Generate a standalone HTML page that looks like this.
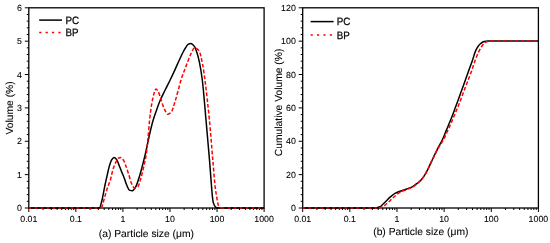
<!DOCTYPE html><html><head><meta charset="utf-8"><title>Particle size distribution</title><style>html,body{margin:0;padding:0;background:#fff;}body{width:550px;height:243px;overflow:hidden;}svg{display:block;}</style></head><body>
<svg width="550" height="243" viewBox="0 0 550 243" font-family='"Liberation Sans", Arial, Helvetica, sans-serif' fill="#000" text-rendering="geometricPrecision">
<style>text{stroke:#000;stroke-width:0.08px;paint-order:stroke;}</style>
<rect width="550" height="243" fill="#fff"/>
<rect x="28.8" y="7.8" width="235.3" height="200.2" fill="none" stroke="#000" stroke-width="1.3"/>
<path d="M24.8,208H28.8 M26.8,201.33H28.8 M26.8,194.65H28.8 M26.8,187.98H28.8 M26.8,181.31H28.8 M24.8,174.63H28.8 M26.8,167.96H28.8 M26.8,161.29H28.8 M26.8,154.61H28.8 M26.8,147.94H28.8 M24.8,141.27H28.8 M26.8,134.59H28.8 M26.8,127.92H28.8 M26.8,121.25H28.8 M26.8,114.57H28.8 M24.8,107.9H28.8 M26.8,101.23H28.8 M26.8,94.55H28.8 M26.8,87.88H28.8 M26.8,81.21H28.8 M24.8,74.53H28.8 M26.8,67.86H28.8 M26.8,61.19H28.8 M26.8,54.51H28.8 M26.8,47.84H28.8 M24.8,41.17H28.8 M26.8,34.49H28.8 M26.8,27.82H28.8 M26.8,21.15H28.8 M26.8,14.47H28.8 M24.8,7.8H28.8 M28.8,208V212 M42.97,208V210 M51.25,208V210 M57.13,208V210 M61.69,208V210 M65.42,208V210 M68.57,208V210 M71.3,208V210 M73.71,208V210 M75.86,208V212 M90.03,208V210 M98.31,208V210 M104.19,208V210 M108.75,208V210 M112.48,208V210 M115.63,208V210 M118.36,208V210 M120.77,208V210 M122.92,208V212 M137.09,208V210 M145.37,208V210 M151.25,208V210 M155.81,208V210 M159.54,208V210 M162.69,208V210 M165.42,208V210 M167.83,208V210 M169.98,208V212 M184.15,208V210 M192.43,208V210 M198.31,208V210 M202.87,208V210 M206.6,208V210 M209.75,208V210 M212.48,208V210 M214.89,208V210 M217.04,208V212 M231.21,208V210 M239.49,208V210 M245.37,208V210 M249.93,208V210 M253.66,208V210 M256.81,208V210 M259.54,208V210 M261.95,208V210 M264.1,208V212" stroke="#000" stroke-width="1" fill="none"/>
<rect x="302.7" y="7.8" width="235.7" height="200.2" fill="none" stroke="#000" stroke-width="1.3"/>
<path d="M298.7,208H302.7 M300.7,201.33H302.7 M300.7,194.65H302.7 M300.7,187.98H302.7 M300.7,181.31H302.7 M298.7,174.63H302.7 M300.7,167.96H302.7 M300.7,161.29H302.7 M300.7,154.61H302.7 M300.7,147.94H302.7 M298.7,141.27H302.7 M300.7,134.59H302.7 M300.7,127.92H302.7 M300.7,121.25H302.7 M300.7,114.57H302.7 M298.7,107.9H302.7 M300.7,101.23H302.7 M300.7,94.55H302.7 M300.7,87.88H302.7 M300.7,81.21H302.7 M298.7,74.53H302.7 M300.7,67.86H302.7 M300.7,61.19H302.7 M300.7,54.51H302.7 M300.7,47.84H302.7 M298.7,41.17H302.7 M300.7,34.49H302.7 M300.7,27.82H302.7 M300.7,21.15H302.7 M300.7,14.47H302.7 M298.7,7.8H302.7 M302.7,208V212 M316.89,208V210 M325.19,208V210 M331.08,208V210 M335.65,208V210 M339.38,208V210 M342.54,208V210 M345.27,208V210 M347.68,208V210 M349.84,208V212 M364.03,208V210 M372.33,208V210 M378.22,208V210 M382.79,208V210 M386.52,208V210 M389.68,208V210 M392.41,208V210 M394.82,208V210 M396.98,208V212 M411.17,208V210 M419.47,208V210 M425.36,208V210 M429.93,208V210 M433.66,208V210 M436.82,208V210 M439.55,208V210 M441.96,208V210 M444.12,208V212 M458.31,208V210 M466.61,208V210 M472.5,208V210 M477.07,208V210 M480.8,208V210 M483.96,208V210 M486.69,208V210 M489.1,208V210 M491.26,208V212 M505.45,208V210 M513.75,208V210 M519.64,208V210 M524.21,208V210 M527.94,208V210 M531.1,208V210 M533.83,208V210 M536.24,208V210 M538.4,208V212" stroke="#000" stroke-width="1" fill="none"/>
<path d="M28.8,208 C52.3,208 75.8,208 99.3,208 C100.13,208 100.97,204 101.8,201 C102.4,198.84 103,195.31 103.6,192.3 C104.07,189.96 104.53,187.26 105,185 C105.73,181.46 106.47,178.38 107.2,175.2 C107.93,172.02 108.67,168.35 109.4,165.9 C110.1,163.57 110.8,161.15 111.5,160.1 C112.37,158.81 113.23,157.5 114.1,157.5 C114.93,157.5 115.77,158.43 116.6,159.4 C117.3,160.22 118,162.7 118.7,164.4 C119.67,166.75 120.63,169.2 121.6,171.6 C122.57,174 123.53,176.24 124.5,178.8 C125.23,180.74 125.97,183.33 126.7,185 C127.6,187.05 128.5,189.78 129.4,190.1 C130.43,190.47 131.47,190.7 132.5,190.7 C133.53,190.7 134.57,188.7 135.6,187 C136.63,185.3 137.67,181.89 138.7,178.8 C139.7,175.81 140.7,172.18 141.7,168.5 C142.73,164.7 143.77,160.56 144.8,156.2 C145.63,152.69 146.47,148.79 147.3,145 C148.2,140.9 149.1,136.32 150,132.5 C151.07,127.97 152.13,123.59 153.2,120 C154.57,115.4 155.93,111.8 157.3,108 C158.2,105.5 159.1,102.94 160,100.8 C161.63,96.92 163.27,93.85 164.9,90.5 C166.57,87.08 168.23,83.93 169.9,80.5 C171.53,77.14 173.17,73.64 174.8,70.1 C176.47,66.48 178.13,62.53 179.8,59 C181.43,55.55 183.07,51.69 184.7,49.1 C185.93,47.15 187.17,44.81 188.4,44.2 C189.23,43.79 190.07,43.4 190.9,43.4 C192.13,43.4 193.37,44.94 194.6,46.6 C195.4,47.67 196.2,50.3 197,52.8 C197.83,55.4 198.67,58.69 199.5,62.7 C200.43,67.19 201.37,72.75 202.3,80 C203.53,89.58 204.77,106.29 206,120 C207.17,132.97 208.33,145.73 209.5,160 C210.17,168.16 210.83,177.77 211.5,186 C211.8,189.7 212.1,194.16 212.4,196.7 C212.7,199.24 213,201.6 213.3,202.6 C214.07,205.15 214.83,206.68 215.6,207.2 C216.23,207.63 216.87,208 217.5,208 C233.03,208 248.57,208 264.1,208" fill="none" stroke="#000" stroke-width="1.5" stroke-linejoin="round"/>
<path d="M302.7,208 C327.13,208 351.57,208 376,208 C377.33,208 378.67,207.41 380,206.8 C381.03,206.32 382.07,204.97 383.1,204 C384.13,203.03 385.17,202.03 386.2,201 C387.2,200 388.2,198.83 389.2,197.9 C390.23,196.94 391.27,196.07 392.3,195.3 C393.33,194.53 394.37,193.78 395.4,193.2 C396.43,192.62 397.47,192.1 398.5,191.7 C399.53,191.3 400.57,191.03 401.6,190.7 C402.63,190.37 403.67,190.05 404.7,189.7 C405.7,189.36 406.7,188.96 407.7,188.6 C408.63,188.26 409.57,188 410.5,187.6 C411.33,187.25 412.17,186.8 413,186.3 C414,185.71 415,184.93 416,184.2 C417.27,183.28 418.53,182.48 419.8,181.3 C421.17,180.03 422.53,178.37 423.9,176.4 C425.27,174.43 426.63,171.68 428,169 C429.4,166.26 430.8,162.97 432.2,160 C433.9,156.39 435.6,152.68 437.3,149.3 C439.03,145.86 440.77,143.19 442.5,139.5 C443.87,136.59 445.23,132.88 446.6,129.6 C447.97,126.32 449.33,123.21 450.7,119.8 C452.07,116.39 453.43,112.74 454.8,109.1 C456.07,105.73 457.33,102.26 458.6,98.8 C460.27,94.24 461.93,89.63 463.6,85 C465.1,80.83 466.6,76.58 468.1,72.4 C469.53,68.41 470.97,64.63 472.4,60.5 C473.5,57.33 474.6,53.02 475.7,50.6 C476.47,48.91 477.23,47.56 478,46.5 C478.8,45.39 479.6,44.47 480.4,43.8 C481.63,42.77 482.87,41.57 484.1,41.4 C485.4,41.22 486.7,41.1 488,41.1 C504.8,41.1 521.6,41.1 538.4,41.1" fill="none" stroke="#000" stroke-width="1.5" stroke-linejoin="round"/>
<path d="M28.8,208H101.6" fill="none" stroke="#f00" stroke-width="1.5" stroke-dasharray="2.2,3.8"/>
<path d="M101.6,208 C102.27,205.67 102.93,203.33 103.6,201 C104.43,198.09 105.27,195.08 106.1,192.3 C106.73,190.19 107.37,188.02 108,186.2 C108.8,183.9 109.6,182.68 110.4,180 C110.77,178.77 111.13,176.66 111.5,175.2 C112.23,172.28 112.97,169.35 113.7,167.3 C114.67,164.6 115.63,162.39 116.6,160.8 C117.3,159.65 118,158.27 118.7,158 C119.43,157.71 120.17,157.5 120.9,157.5 C121.87,157.5 122.83,159.27 123.8,160.8 C124.5,161.91 125.2,164.03 125.9,165.9 C126.8,168.31 127.7,171.18 128.6,174 C129.57,177.03 130.53,181.51 131.5,183.5 C132.5,185.56 133.5,188 134.5,188 C135.53,188 136.57,187.59 137.6,187 C138.63,186.41 139.67,182.08 140.7,178.8 C141.73,175.52 142.77,171.09 143.8,166.5 C144.63,162.8 145.47,159.54 146.3,154 C146.93,149.79 147.57,142.49 148.2,135.9 C148.67,131.04 149.13,124.32 149.6,120 C150.27,113.83 150.93,108.57 151.6,104.7 C152.43,99.87 153.27,95.65 154.1,93.2 C154.73,91.34 155.37,89 156,89 C156.73,89 157.47,90.33 158.2,91.5 C159,92.78 159.8,95.81 160.6,98.1 C161.7,101.25 162.8,105.76 163.9,108 C165.27,110.78 166.63,114.2 168,114.2 C169.1,114.2 170.2,113.24 171.3,112.1 C172.4,110.96 173.5,106.39 174.6,103 C175.7,99.61 176.8,95.45 177.9,91.5 C178.93,87.79 179.97,83.29 181,80 C182.47,75.33 183.93,71.81 185.4,67.9 C187.13,63.28 188.87,57.94 190.6,54.5 C191.97,51.79 193.33,47.8 194.7,47.8 C196.07,47.8 197.43,48.92 198.8,50.4 C200.17,51.88 201.53,59 202.9,65.9 C203.67,69.77 204.43,76.02 205.2,82 C206.6,92.91 208,105.61 209.4,120 C210.53,131.65 211.67,146.99 212.8,160 C213.63,169.57 214.47,181.49 215.3,188.1 C215.63,190.74 215.97,192.55 216.3,194.6 C216.67,196.85 217.03,199.09 217.4,201 C217.67,202.39 217.93,204.18 218.2,204.8 C218.8,206.19 219.4,206.96 220,207.3 C220.67,207.68 221.33,207.77 222,208" fill="none" stroke="#f00" stroke-width="1.5" stroke-linejoin="round" stroke-dasharray="3.8,2.0"/>
<path d="M222,208H264.1" fill="none" stroke="#f00" stroke-width="1.5" stroke-dasharray="2.2,3.8"/>
<path d="M302.7,208H379" fill="none" stroke="#f00" stroke-width="1.5" stroke-dasharray="2.2,3.8"/>
<path d="M379,208 C380.37,207.53 381.73,207.28 383.1,206.6 C384.13,206.09 385.17,204.86 386.2,204 C387.2,203.16 388.2,202.41 389.2,201.5 C390.23,200.56 391.27,199.34 392.3,198.4 C393.33,197.46 394.37,196.67 395.4,195.8 C396.43,194.93 397.47,193.91 398.5,193.2 C399.53,192.49 400.57,191.83 401.6,191.4 C402.63,190.97 403.67,190.78 404.7,190.4 C405.7,190.03 406.7,189.51 407.7,189.1 C408.63,188.72 409.57,188.4 410.5,188 C411.33,187.64 412.17,187.28 413,186.8 C414,186.22 415,185.39 416,184.6 C417.27,183.6 418.53,182.57 419.8,181.3 C421.17,179.93 422.53,178.37 423.9,176.4 C425.27,174.43 426.63,171.68 428,169 C429.4,166.26 430.8,162.89 432.2,160 C433.97,156.36 435.73,152.67 437.5,149.5 C439.43,146.03 441.37,143.6 443.3,140 C444.67,137.45 446.03,134.27 447.4,131.3 C448.77,128.33 450.13,125.36 451.5,122.2 C452.87,119.04 454.23,115.57 455.6,112.3 C456.83,109.34 458.07,106.62 459.3,103.5 C460.53,100.38 461.77,96.79 463,93.5 C464.33,89.95 465.67,86.5 467,83 C468.5,79.06 470,75.37 471.5,71.2 C472.77,67.68 474.03,63.37 475.3,60 C476.37,57.16 477.43,54.39 478.5,52.2 C479.73,49.67 480.97,47.39 482.2,45.7 C483.13,44.42 484.07,43.09 485,42.5 C485.83,41.97 486.67,41.52 487.5,41.4 C488.67,41.23 489.83,41.2 491,41.1" fill="none" stroke="#f00" stroke-width="1.5" stroke-linejoin="round" stroke-dasharray="3.8,2.0"/>
<path d="M491,41.1H538.4" fill="none" stroke="#f00" stroke-width="1.5" stroke-dasharray="3.3,2.7"/>
<text x="22" y="211.17" text-anchor="end" font-size="8.8">0</text>
<text x="22" y="177.8" text-anchor="end" font-size="8.8">1</text>
<text x="22" y="144.43" text-anchor="end" font-size="8.8">2</text>
<text x="22" y="111.07" text-anchor="end" font-size="8.8">3</text>
<text x="22" y="77.7" text-anchor="end" font-size="8.8">4</text>
<text x="22" y="44.33" text-anchor="end" font-size="8.8">5</text>
<text x="22" y="10.97" text-anchor="end" font-size="8.8">6</text>
<text x="295.8" y="211.17" text-anchor="end" font-size="8.8">0</text>
<text x="295.8" y="177.8" text-anchor="end" font-size="8.8">20</text>
<text x="295.8" y="144.43" text-anchor="end" font-size="8.8">40</text>
<text x="295.8" y="111.07" text-anchor="end" font-size="8.8">60</text>
<text x="295.8" y="77.7" text-anchor="end" font-size="8.8">80</text>
<text x="295.8" y="44.33" text-anchor="end" font-size="8.8">100</text>
<text x="295.8" y="10.97" text-anchor="end" font-size="8.8">120</text>
<text x="28.8" y="222" text-anchor="middle" font-size="8.8">0.01</text>
<text x="75.86" y="222" text-anchor="middle" font-size="8.8">0.1</text>
<text x="122.92" y="222" text-anchor="middle" font-size="8.8">1</text>
<text x="169.98" y="222" text-anchor="middle" font-size="8.8">10</text>
<text x="217.04" y="222" text-anchor="middle" font-size="8.8">100</text>
<text x="264.1" y="222" text-anchor="middle" font-size="8.8">1000</text>
<text x="302.7" y="222" text-anchor="middle" font-size="8.8">0.01</text>
<text x="349.84" y="222" text-anchor="middle" font-size="8.8">0.1</text>
<text x="396.98" y="222" text-anchor="middle" font-size="8.8">1</text>
<text x="444.12" y="222" text-anchor="middle" font-size="8.8">10</text>
<text x="491.26" y="222" text-anchor="middle" font-size="8.8">100</text>
<text x="538.4" y="222" text-anchor="middle" font-size="8.8">1000</text>
<text x="146.4" y="237.3" text-anchor="middle" font-size="10.3">(a) Particle size (μm)</text>
<text x="420.8" y="234.7" text-anchor="middle" font-size="10.3">(b) Particle size (μm)</text>
<text transform="translate(13.3,107.9) rotate(-90)" text-anchor="middle" font-size="10.3">Volume (%)</text>
<text transform="translate(282.1,102.4) rotate(-90)" text-anchor="middle" font-size="10.3">Cumulative Volume (%)</text>
<path d="M39.2,20.1H62" stroke="#000" stroke-width="1.5"/>
<path d="M39.2,32.6H62" stroke="#f00" stroke-width="1.5" stroke-dasharray="2.2,4.2"/>
<text transform="translate(65.6,23.92) scale(0.92,1)" font-size="10.6" style="stroke-width:0.25px">PC</text>
<text transform="translate(65.6,36.42) scale(0.92,1)" font-size="10.6" style="stroke-width:0.25px">BP</text>
<path d="M310.6,21.6H333.6" stroke="#000" stroke-width="1.5"/>
<path d="M310.6,35H333.6" stroke="#f00" stroke-width="1.5" stroke-dasharray="2.2,4.2"/>
<text transform="translate(336.7,25.42) scale(0.92,1)" font-size="10.6" style="stroke-width:0.25px">PC</text>
<text transform="translate(336.7,38.82) scale(0.92,1)" font-size="10.6" style="stroke-width:0.25px">BP</text>
</svg></body></html>
